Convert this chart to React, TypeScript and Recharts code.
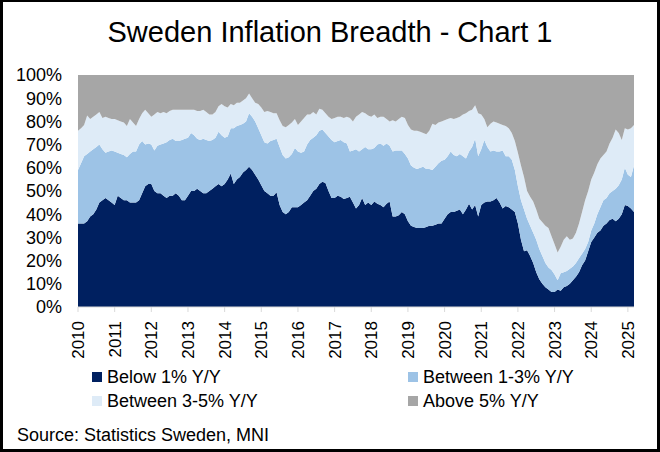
import React from "react";
import { AreaChart, Area, XAxis, YAxis } from "recharts";

// Share of CPI components by annual inflation rate, monthly Jan 2010 - Mar 2025 (%)
const yearLabels = [
  "2010", "2011", "2012", "2013", "2014", "2015", "2016", "2017",
  "2018", "2019", "2020", "2021", "2022", "2023", "2024", "2025",
];

const below1 = [
  36, 36, 36, 37, 39, 40, 42, 45, 46, 47, 46, 45,
  44, 48, 47, 46, 46, 45, 45, 45, 46, 49, 52, 53,
  53, 50, 49, 49, 48, 47, 48, 48, 49, 48, 46, 46,
  48, 50, 50, 51, 50, 49, 49, 50, 51, 52, 53, 52,
  53, 55, 57.5, 53, 55, 56, 58, 59, 60.5, 59, 57, 55,
  52.5, 50, 49, 48, 48, 49.5, 44, 41, 40, 41, 43, 43,
  43, 44, 45, 46, 48, 50, 51, 53, 54, 53.5, 50, 47,
  47, 48, 47.5, 46.5, 47, 47.5, 45, 42.5, 44, 47, 44, 45,
  44, 45.5, 44.5, 44, 43, 44.5, 45.5, 39, 39, 39.5, 41, 40,
  37, 35, 34.5, 34, 34, 34, 34.5, 35, 35, 35.5, 36, 36,
  38, 40, 41, 41, 41.5, 42, 40, 42, 44.5, 42, 44, 39,
  44, 45, 45.5, 45.5, 46, 47, 45, 42.5, 43.5, 43, 42, 41,
  36, 29, 24, 24.5, 22, 19, 15, 12, 10, 8.5, 7.5, 6.5,
  6.5, 7.5, 7, 8.5, 9, 10, 11.5, 13, 15, 18, 20, 24,
  28, 30, 32, 33, 35, 36, 37.5, 38, 37, 38, 40, 44,
  43.5, 42.5, 41,
];

const between1to3 = [
  23, 26, 29, 29, 28, 28, 27, 25, 22, 19.5, 21, 22.5,
  23, 18.5, 19, 19.5, 18.5, 21, 22, 22, 24, 22.5, 18, 17.5,
  17, 17.5, 20.5, 21, 22.5, 24, 24, 24.5, 22.5, 23.5, 26, 26.5,
  25, 25, 24, 21.5, 22, 23.5, 23, 21.5, 21, 21, 22.5, 22,
  20, 18.5, 19.5, 24, 23, 22.5, 21, 21, 23, 23, 23, 22,
  21.5, 21, 21.5, 23.5, 24, 23, 25, 24.5, 24, 23.5, 23, 25.5,
  24, 22.5, 22, 24, 24, 23, 23, 23, 22.5, 21.5, 23.5, 25,
  24, 23.5, 24.5, 24.5, 23.5, 19.5, 22.5, 25.5, 23, 21, 25, 23,
  24, 23, 25.5, 26.5, 26.5, 26, 24, 28, 28.5, 28, 26.5, 26,
  27, 26, 25.5, 25.5, 26, 26.5, 25, 24.5, 24, 25, 26, 27,
  25.5, 25, 26, 24.5, 23.5, 24, 25, 22, 22.5, 27, 28.5, 26,
  24, 27, 23.5, 21.5, 21.5, 20, 22, 25, 21.5, 22, 21.5, 18,
  16, 17, 18, 13.5, 13, 13, 14, 13, 12, 10.5, 9.5, 9.5,
  7.5, 4, 7.5, 6.5, 6.5, 6.5, 6, 6, 6, 5, 5, 4,
  5, 6, 8, 10, 11, 11, 11.5, 12, 14, 14.5, 15, 16,
  13.5, 13.5, 20,
];

const between3to5 = [
  17, 15, 13.5, 16.5, 14, 14, 14, 14, 13.5, 15.5, 14.5, 13.5,
  14, 14, 14, 14, 13.5, 15, 12.5, 11, 11, 12, 15, 13,
  12, 15.5, 14.5, 13.5, 13.5, 12.5, 12.5, 12.5, 13.5, 13.5, 13, 12.5,
  12, 10, 11, 12, 12.5, 12.5, 12, 11.5, 11, 11, 11, 13.5,
  13.5, 12.5, 10.5, 10, 10, 9.5, 10, 10, 8.5, 8, 8, 10.5,
  12, 13, 14, 12.5, 11.5, 11, 11.5, 12.5, 13.5, 14, 13.5, 12.5,
  11.5, 13.5, 14.5, 13, 11, 11, 9, 9.5, 8.5, 8.5, 8.5, 9,
  10.5, 10.5, 10, 10.5, 11.5, 14.5, 12.5, 14, 16, 16, 14.5, 14.5,
  14, 14.5, 11.5, 11.5, 12.5, 10.5, 10.5, 13.5, 12.5, 13.5, 14.5, 15.5,
  14.5, 15.5, 16, 16.5, 15.5, 14.5, 15, 16.5, 20, 18, 17.5, 17,
  17, 16, 14.5, 15.5, 16.5, 16, 18, 19.5, 17.5, 16, 14.5, 18.5,
  15, 9, 8.5, 12, 12.5, 12.5, 12, 11, 13, 12, 11.5, 12.5,
  14.5, 15, 14, 12, 12.5, 13.5, 13, 13, 14.5, 16, 17, 14.5,
  13, 12, 11.5, 14, 15, 12.5, 12, 13, 15, 18, 21, 22,
  22, 22, 21.5, 21, 19.5, 20, 21.5, 23, 25.5, 22.5, 17, 17,
  19.5, 21, 17.5,
];

const above5 = [
  24, 23, 21.5, 17.5, 19, 18, 17, 16, 18.5, 18, 18.5, 19,
  19, 19.5, 20, 20.5, 22, 19, 20.5, 22, 19, 16.5, 15, 16.5,
  18, 17, 16, 16.5, 16, 16.5, 15.5, 15, 15, 15, 15, 15,
  15, 15, 15, 15.5, 15.5, 15, 16, 17, 17, 16, 13.5, 12.5,
  13.5, 14, 12.5, 13, 12, 12, 11, 10, 8, 10, 12, 12.5,
  14, 16, 15.5, 16, 16.5, 16.5, 19.5, 22, 22.5, 21.5, 20.5, 19,
  21.5, 20, 18.5, 17, 17, 16, 17, 14.5, 15, 16.5, 18, 19,
  18.5, 18, 18, 18.5, 18, 18.5, 20, 18, 17, 16, 16.5, 17.5,
  18, 17, 18.5, 18, 18, 19, 20, 19.5, 20, 19, 18, 18.5,
  21.5, 23.5, 24, 24, 24.5, 25, 25.5, 24, 21, 21.5, 20.5, 20,
  19.5, 19, 18.5, 19, 18.5, 18, 17, 16.5, 15.5, 15, 13, 16.5,
  17, 19, 22.5, 21, 20, 20.5, 21, 21.5, 22, 23, 25, 28.5,
  33.5, 39, 44, 50, 52.5, 54.5, 58, 62, 63.5, 65, 66, 69.5,
  73, 76.5, 74, 71, 69.5, 71, 70.5, 68, 64, 59, 54, 50,
  45, 42, 38.5, 36, 34.5, 33, 29.5, 27, 23.5, 25, 28, 23,
  23.5, 23, 21.5,
];

const yTicks = [0, 10, 20, 30, 40, 50, 60, 70, 80, 90, 100];

const COLORS = {
  below1: "#002060",
  b13: "#9DC3E6",
  b35: "#DEEBF7",
  above5: "#A6A6A6",
};

const FONT = '"Liberation Sans", Arial, Helvetica, sans-serif';

const rows = below1.map((v, i) => ({
  idx: i,
  month: `${yearLabels[Math.floor(i / 12)]}-${String((i % 12) + 1).padStart(2, "0")}`,
  below1: v,
  b13: between1to3[i],
  b35: between3to5[i],
  above5: above5[i],
}));

const xTicks = yearLabels.map((_, k) => k * 12);

const YearTick = (props: any) => {
  const { x, y, payload } = props;
  const label = yearLabels[Math.round(payload.value / 12)];
  return (
    <text
      x={x}
      y={y}
      transform={`rotate(-90 ${x} ${y})`}
      textAnchor="end"
      dy="0.36em"
      fontSize={17}
      fontFamily={FONT}
      fill="#000"
    >
      {label}
    </text>
  );
};

const legendItems = [
  { name: "Below 1% Y/Y", color: COLORS.below1, left: 92, top: 366 },
  { name: "Between 1-3% Y/Y", color: COLORS.b13, left: 408, top: 366 },
  { name: "Between 3-5% Y/Y", color: COLORS.b35, left: 92, top: 390 },
  { name: "Above 5% Y/Y", color: COLORS.above5, left: 408, top: 390 },
];

export default function App() {
  return (
    <div
      style={{
        position: "absolute",
        left: 0,
        top: 0,
        width: 660,
        height: 452,
        boxSizing: "border-box",
        borderStyle: "solid",
        borderColor: "#000",
        borderWidth: "2px 3px 3px 3px",
        background: "#fff",
        fontFamily: FONT,
        overflow: "hidden",
      }}
    >
      <div
        style={{
          position: "absolute",
          left: -3,
          top: 16,
          width: 660,
          textAlign: "center",
          fontSize: 29,
          lineHeight: "29px",
          color: "#000",
        }}
      >
        Sweden Inflation Breadth - Chart 1
      </div>

      <div style={{ position: "absolute", left: -3, top: -2 }}>
        <AreaChart
          width={660}
          height={452}
          data={rows}
          margin={{ top: 75, right: 26, bottom: 95, left: 0 }}
        >
          <XAxis
            dataKey="idx"
            type="number"
            domain={[0, rows.length - 1]}
            ticks={xTicks}
            interval={0}
            height={50}
            axisLine={{ stroke: "#D9D9D9" }}
            tickLine={{ stroke: "#D9D9D9" }}
            tickSize={5}
            tickMargin={9}
            tick={<YearTick />}
          />
          <YAxis
            type="number"
            domain={[0, 100]}
            ticks={yTicks}
            interval={0}
            width={78}
            axisLine={false}
            tickLine={false}
            tickSize={0}
            tickMargin={16}
            tickFormatter={(v: number) => `${v}%`}
            tick={{ fontSize: 18, fill: "#000", fontFamily: FONT }}
          />
          <Area
            type="linear"
            dataKey="below1"
            name="Below 1% Y/Y"
            stackId="s"
            stroke="none"
            fill={COLORS.below1}
            fillOpacity={1}
            isAnimationActive={false}
            dot={false}
            activeDot={false}
          />
          <Area
            type="linear"
            dataKey="b13"
            name="Between 1-3% Y/Y"
            stackId="s"
            stroke="none"
            fill={COLORS.b13}
            fillOpacity={1}
            isAnimationActive={false}
            dot={false}
            activeDot={false}
          />
          <Area
            type="linear"
            dataKey="b35"
            name="Between 3-5% Y/Y"
            stackId="s"
            stroke="none"
            fill={COLORS.b35}
            fillOpacity={1}
            isAnimationActive={false}
            dot={false}
            activeDot={false}
          />
          <Area
            type="linear"
            dataKey="above5"
            name="Above 5% Y/Y"
            stackId="s"
            stroke="none"
            fill={COLORS.above5}
            fillOpacity={1}
            isAnimationActive={false}
            dot={false}
            activeDot={false}
          />
        </AreaChart>
      </div>

      {legendItems.map((item) => (
        <div
          key={item.name}
          style={{
            position: "absolute",
            left: item.left - 3,
            top: item.top - 2,
            height: 22,
            display: "flex",
            alignItems: "center",
            fontSize: 18,
            color: "#000",
            whiteSpace: "nowrap",
          }}
        >
          <span
            style={{
              display: "inline-block",
              width: 10,
              height: 10,
              background: item.color,
              marginRight: 5,
            }}
          />
          {item.name}
        </div>
      ))}

      <div
        style={{
          position: "absolute",
          left: 14,
          top: 422,
          fontSize: 18,
          lineHeight: "22px",
          color: "#000",
          whiteSpace: "nowrap",
        }}
      >
        Source: Statistics Sweden, MNI
      </div>
    </div>
  );
}
